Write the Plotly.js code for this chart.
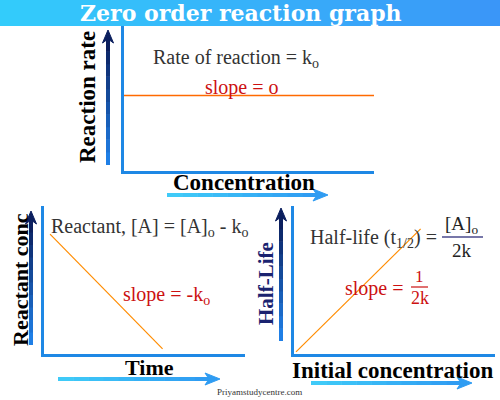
<!DOCTYPE html>
<html>
<head>
<meta charset="utf-8">
<script src="https://cdn.plot.ly/plotly-3.0.1.min.js"></script>
<style>html,body{margin:0;padding:0;background:#fff;}#chart{width:500px;height:400px;}</style>
</head>
<body>
<div id="chart"></div>
<script>
// ---- Data ----
var concentration = [0, 10];          // top panel x
var reactionRate = [5.2, 5.2];        // zero order: constant rate
var time = [0.3, 5.9];                // bottom-left x
var reactantConc = [8.1, 0.35];       // bottom-left y
var initialConc = [0.1, 6.3];         // bottom-right x
var halfLife = [0.14, 8.45];          // bottom-right y

var W = 500, H = 400;
var SERIF = '"Liberation Serif", "Times New Roman", serif';
var WIDESERIF = '"DejaVu Serif", serif';
function px(x){ return x / W; }
function py(y){ return 1 - y / H; }
function lerpColor(a, b, t){
  var pa = [parseInt(a.substr(1,2),16), parseInt(a.substr(3,2),16), parseInt(a.substr(5,2),16)];
  var pb = [parseInt(b.substr(1,2),16), parseInt(b.substr(3,2),16), parseInt(b.substr(5,2),16)];
  var c = pa.map(function(v,i){ return Math.round(v + (pb[i]-v)*t); });
  return 'rgb(' + c.join(',') + ')';
}

var shapes = [];
// Banner gradient
var nb = 50;
for (var i = 0; i < nb; i++) {
  shapes.push({type:'rect', xref:'paper', yref:'paper', x0:px(i*W/nb), x1:px((i+1)*W/nb+0.5), y0:py(26), y1:py(0),
    fillcolor: lerpColor('#33ccfb', '#3a96f8', i/(nb-1)), line:{width:0}, layer:'below'});
}
function vArrow(x, yTop, yBot, cTop, cBot){
  var n = 10, y0 = yTop + 9;
  for (var k = 0; k < n; k++) {
    var a = yBot - (yBot - y0) * k / n, b = yBot - (yBot - y0) * (k+1) / n;
    shapes.push({type:'line', xref:'paper', yref:'paper', x0:px(x), x1:px(x), y0:py(a), y1:py(b - 0.5),
      line:{color: lerpColor(cBot, cTop, k/(n-1)), width:4}});
  }
  shapes.push({type:'path', xref:'paper', yref:'paper',
    path:'M'+px(x)+','+py(yTop)+' L'+px(x-5.5)+','+py(yTop+13)+' L'+px(x)+','+py(yTop+9)+' L'+px(x+5.5)+','+py(yTop+13)+' Z',
    fillcolor:cTop, line:{color:cTop, width:1}});
}
function hArrow(y, xL, xR, cL, cR){
  var n = 10, x1 = xR - 10;
  for (var k = 0; k < n; k++) {
    var a = xL + (x1 - xL) * k / n, b = xL + (x1 - xL) * (k+1) / n;
    shapes.push({type:'line', xref:'paper', yref:'paper', x0:px(a), x1:px(b + 0.5), y0:py(y), y1:py(y),
      line:{color: lerpColor(cL, cR, k/(n-1)), width:4}});
  }
  shapes.push({type:'path', xref:'paper', yref:'paper',
    path:'M'+px(xR)+','+py(y)+' L'+px(xR-15)+','+py(y-6)+' L'+px(xR-11)+','+py(y)+' L'+px(xR-15)+','+py(y+6)+' Z',
    fillcolor:cR, line:{color:cR, width:1}});
}
vArrow(108, 30, 165, '#0b1f5e', '#1f7fe6');
vArrow(31, 211, 345, '#0b1f5e', '#1f7fe6');
vArrow(281, 208, 341, '#0b1f5e', '#1f7fe6');
hArrow(195, 167, 328, '#3fcaf8', '#2f9cf2');
hArrow(379, 58, 220, '#3fcaf8', '#2f9cf2');
hArrow(383, 311, 472, '#3fcaf8', '#2f9cf2');
// fraction bars
shapes.push({type:'line', xref:'paper', yref:'paper', x0:px(442), x1:px(483), y0:py(237), y1:py(237), line:{color:'#4a4a8c', width:1.5}});
shapes.push({type:'line', xref:'paper', yref:'paper', x0:px(411), x1:px(428), y0:py(287), y1:py(287), line:{color:'#cc1111', width:1.2}});

var bodyFont = {family:SERIF, size:20, color:'#333333'};
var redFont = {family:SERIF, size:20, color:'#cc1111'};
var labelFont = {family:SERIF, size:23, color:'#000000', weight:'bold'};
function ann(text, x, y, font, opts){
  var a = {text:text, xref:'paper', yref:'paper', x:px(x), y:py(y), showarrow:false, font:font, xanchor:'center', yanchor:'middle'};
  for (var k in (opts||{})) a[k] = opts[k];
  return a;
}
var annotations = [
  ann('Zero order reaction graph', 241, 13, {family:WIDESERIF, size:22, color:'#ffffff', weight:'bold'}),
  ann('Rate of reaction = k<sub>o</sub>', 151, 59, bodyFont, {xanchor:'left'}),
  ann('slope = o', 242, 87, redFont),
  ann('Concentration', 244, 182, labelFont),
  ann('Reaction rate', 88, 97, labelFont, {textangle:-90}),
  ann('Reactant, [A] = [A]<sub>o</sub> - k<sub>o</sub>', 49, 227, bodyFont, {xanchor:'left'}),
  ann('slope = -k<sub>o</sub>', 121, 295, redFont, {xanchor:'left'}),
  ann('Time', 149, 367, {family:SERIF, size:22, color:'#000000', weight:'bold'}),
  ann('Reactant conc', 20, 280, {family:SERIF, size:22, color:'#000000', weight:'bold'}, {textangle:-90}),
  ann('Half-life (t<sub>1/2</sub>) =', 308, 238, bodyFont, {xanchor:'left'}),
  ann('[A]<sub>o</sub>', 461, 225, {family:SERIF, size:19, color:'#222222'}),
  ann('2k', 462, 250, {family:SERIF, size:19, color:'#222222'}),
  ann('slope =', 343, 288, redFont, {xanchor:'left'}),
  ann('1', 419, 276, {family:SERIF, size:17, color:'#cc1111'}),
  ann('2k', 420, 298, {family:SERIF, size:18, color:'#cc1111'}),
  ann('Initial concentration', 392, 370, labelFont),
  ann('Half-Life', 266, 284, {family:SERIF, size:21, color:'#1a2370', weight:'bold'}, {textangle:-90}),
  ann('Priyamstudycentre.com', 259, 392, {family:SERIF, size:9, color:'#333333'})
];

function axis(dom, anchor){
  return {domain:dom, anchor:anchor, range:[0,10], showline:true, linecolor:'#1e88e5', linewidth:3,
    showgrid:false, zeroline:false, showticklabels:false, ticks:'', fixedrange:true};
}
var layout = {
  width:500, height:400, margin:{l:0,r:0,t:0,b:0}, showlegend:false,
  paper_bgcolor:'#ffffff', plot_bgcolor:'rgba(0,0,0,0)',
  xaxis: axis([px(124), px(374)], 'y'),
  yaxis: axis([py(171), py(26)], 'x'),
  xaxis2: axis([px(44), px(245)], 'y2'),
  yaxis2: axis([py(354), py(206)], 'x2'),
  xaxis3: axis([px(294), px(495)], 'y3'),
  yaxis3: axis([py(354), py(206)], 'x3'),
  shapes:shapes, annotations:annotations
};
var data = [
  {x:concentration, y:reactionRate, xaxis:'x', yaxis:'y', mode:'lines', line:{color:'#ff6a00', width:1.5}, hoverinfo:'skip'},
  {x:time, y:reactantConc, xaxis:'x2', yaxis:'y2', mode:'lines', line:{color:'#ff8c00', width:1.2}, hoverinfo:'skip'},
  {x:initialConc, y:halfLife, xaxis:'x3', yaxis:'y3', mode:'lines', line:{color:'#ff8c00', width:1.2}, hoverinfo:'skip'}
];
Plotly.newPlot('chart', data, layout, {staticPlot:true, displayModeBar:false});
</script>
</body>
</html>
